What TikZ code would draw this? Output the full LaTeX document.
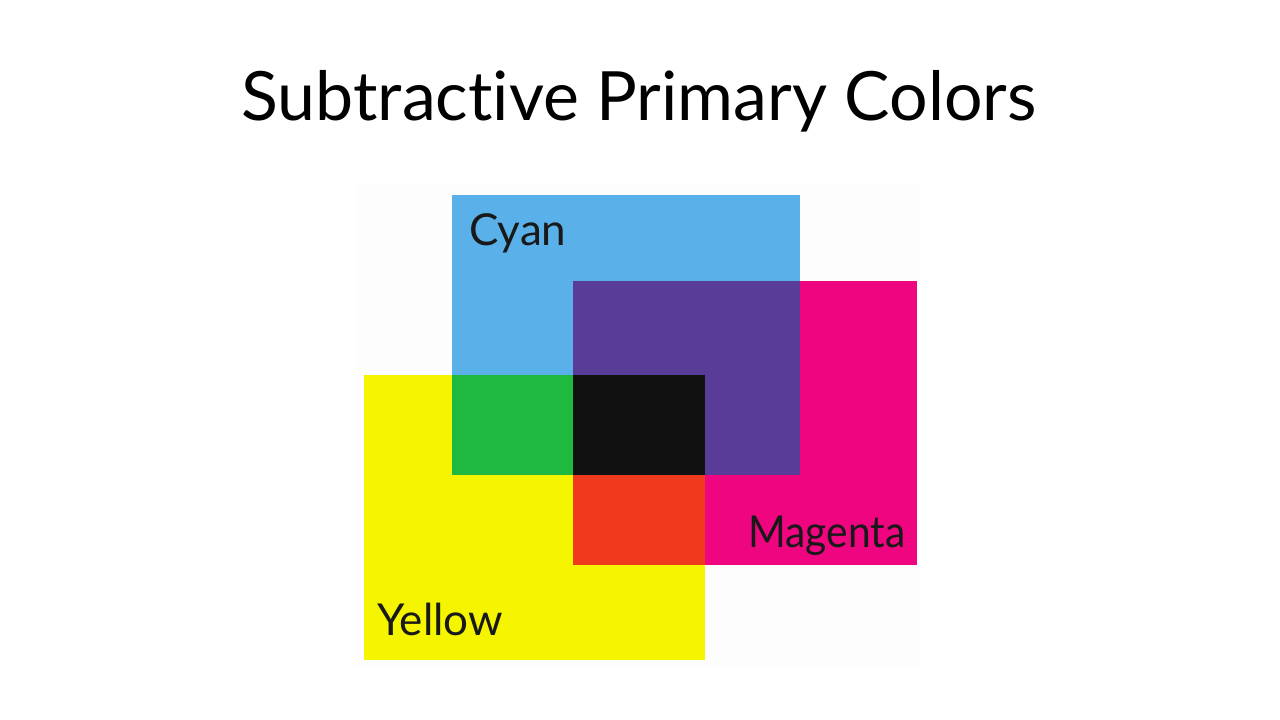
\documentclass[tikz,border=0pt]{standalone}
\usepackage{fontspec}
\setmainfont{Lato}[Ligatures={NoCommon,NoDiscretionary}]
\definecolor{cyanc}{HTML}{5AB0E8}
\definecolor{magc}{HTML}{EF0580}
\definecolor{yelc}{HTML}{F5F500}
\definecolor{purc}{HTML}{583C98}
\definecolor{grnc}{HTML}{20B940}
\definecolor{redc}{HTML}{F03A1E}
\definecolor{blkc}{HTML}{111111}
\definecolor{bgc}{HTML}{FDFDFD}
\begin{document}
\begin{tikzpicture}[x=1pt,y=-1pt,
  lbl/.style={inner sep=0pt,anchor=base west,font=\fontsize{44}{44}\selectfont,text=black!90},
  ttl/.style={inner sep=0pt,anchor=base,font=\fontsize{68}{68}\selectfont}]
\useasboundingbox[fill=white] (0,0) rectangle (1280,720);
\fill[bgc] (355,185) rectangle (920,668);
% primaries
\fill[cyanc] (452,195) rectangle (800,475);
\fill[magc] (573,281) rectangle (917,565);
\fill[yelc] (364,375) rectangle (705,660);
% overlaps
\fill[purc] (573,281) rectangle (800,475);
\fill[grnc] (452,375) rectangle (573,475);
\fill[redc] (573,475) rectangle (705,565);
\fill[blkc] (573,375) rectangle (705,475);
% labels
\node[ttl] (title) at (639,120) {Subtractive Primary Colors};
\node[lbl] (cyan) at (469,245) {Cyan};
\node[lbl] (magenta) at (748,547) {\scalebox{0.925}[1]{Magenta}};
\node[lbl] (yellow) at (377,635) {Yellow};
\end{tikzpicture}
\end{document}
